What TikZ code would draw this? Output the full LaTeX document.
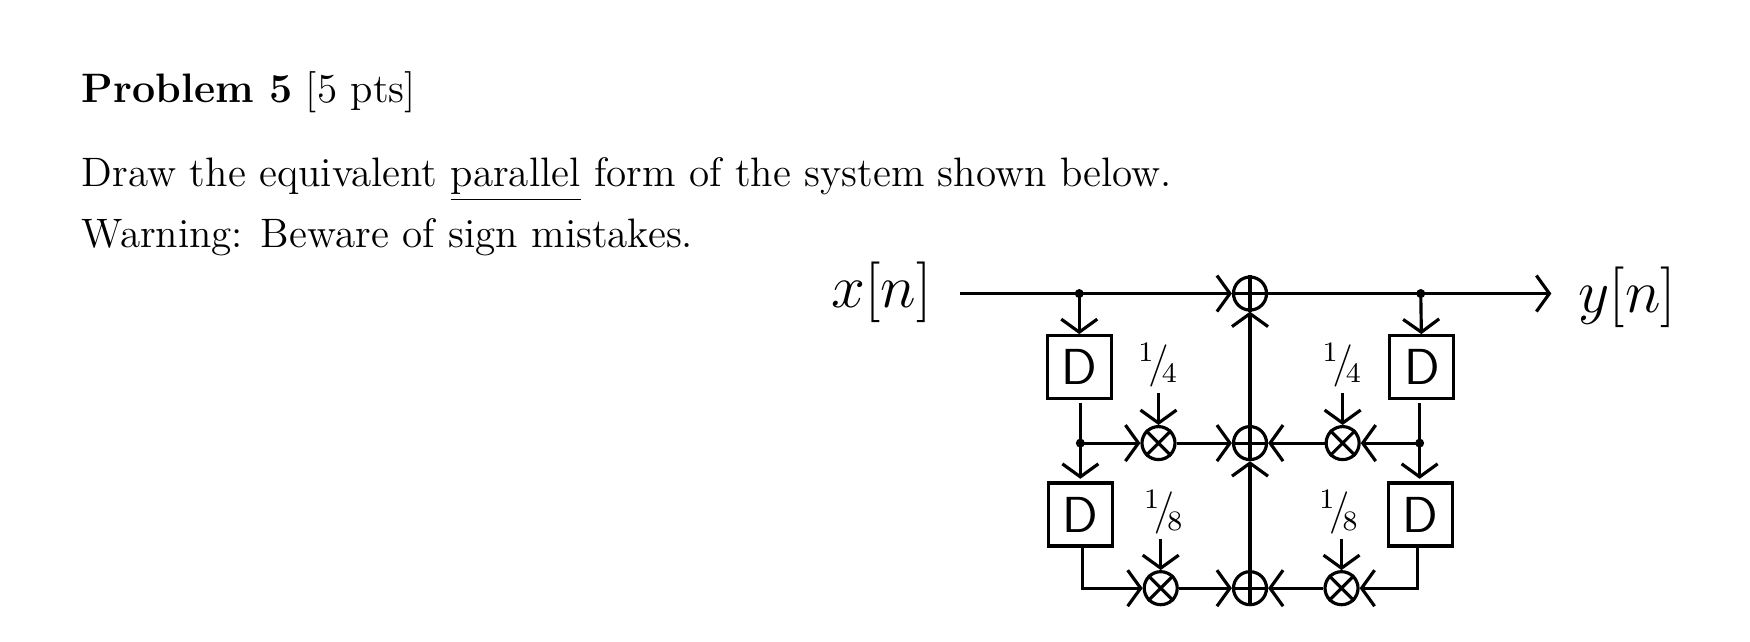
\documentclass[tikz,border=0pt]{standalone}
\usetikzlibrary{arrows.meta}
\begin{document}
\begin{tikzpicture}[x=0.011161cm,y=-0.011161cm,line width=0.9pt,
  arr/.style={-{Straight Barb[length=1.3mm,width=3.6mm,line width=0.9pt]}},
  dbox/.style={draw,minimum width=0.64cm,minimum height=0.63cm,inner sep=0pt,font=\sffamily\Large},
  circ/.style={draw,circle,minimum size=0.33cm,inner sep=0pt},
  dotn/.style={circle,fill,inner sep=0pt,minimum size=0.09cm},
  txt/.style={anchor=base west,inner sep=0pt,font=\fontsize{11.7}{14}\selectfont},
  coef/.style={font=\large,inner sep=1pt}]
\useasboundingbox (0,0) rectangle (1568,575);
\node[txt] (t1) at (72,92) {\textbf{Problem 5} [5 pts]};
\node[txt] (t2) at (72,167) {Draw the equivalent \underline{parallel} form of the system shown below.};
\node[txt] (t3) at (72,222) {Warning: Beware of sign mistakes.};
\node[font=\LARGE] (x) at (790,262) {$x[n]$};
\node[font=\LARGE] (y) at (1458,266) {$y[n]$};
\coordinate (xs) at (860,263);
\coordinate (ye) at (1390,263);
\node[dotn] (p1) at (967,263) {};
\node[dotn] (p2) at (1273,263) {};
\node[circ] (a1) at (1120,263) {};
\draw (a1.north)--(a1.south) (a1.west)--(a1.east);
\node[dbox] (d1) at (967,329) {D};
\node[dbox] (d2) at (1274,329) {D};
\node[dbox] (d3) at (968,461) {D};
\node[dbox] (d4) at (1273,461) {D};
\node[dotn] (p3) at (968,397) {};
\node[dotn] (p4) at (1272,397) {};
\node[circ] (m1) at (1038,397) {};
\node[circ] (a2) at (1120,397) {};
\node[circ] (m2) at (1203,397) {};
\node[circ] (m3) at (1040,527) {};
\node[circ] (a3) at (1120,527) {};
\node[circ] (m4) at (1202,527) {};
\foreach \k in {a2,a3}{\draw (\k.north)--(\k.south) (\k.west)--(\k.east);}
\foreach \k in {m1,m2,m3,m4}{\draw (\k.north west)--(\k.south east) (\k.north east)--(\k.south west);}
\node[coef] (c1) at (1038,327) {${}^1\!/\!{}_4$};
\node[coef] (c2) at (1203,327) {${}^1\!/\!{}_4$};
\node[coef] (c3) at (1043,459) {${}^1\!/\!{}_8$};
\node[coef] (c4) at (1200,459) {${}^1\!/\!{}_8$};
\coordinate (c1b) at (1038,352);
\coordinate (c2b) at (1203,352);
\coordinate (c3b) at (1040,483);
\coordinate (c4b) at (1202,483);
\coordinate (d3b) at (970,489);
\coordinate (d4b) at (1270,489);
\coordinate (d2b) at (1272,361);
\coordinate (d4t) at (1272,429);
\coordinate (d1b) at (968,361);
\coordinate (d3t) at (968,429);
\draw[arr] (xs)--(a1);
\draw (a1)--(p2.center);
\draw[arr] (p2.center)--(ye);
\draw[arr] (p1.center)--(d1);
\draw[arr] (p2.center)--(d2);
\draw (d1b)--(p3.center);
\draw[arr] (p3.center)--(d3t);
\draw (d2b)--(p4.center);
\draw[arr] (p4.center)--(d4t);
\draw[arr] (p3.center)--(m1);
\draw[arr] (m1)--(a2);
\draw[arr] (p4.center)--(m2);
\draw[arr] (m2)--(a2);
\draw[arr] (a2)--(a1);
\draw[arr] (c1b)--(m1);
\draw[arr] (c2b)--(m2);
\draw[arr] (c3b)--(m3);
\draw[arr] (c4b)--(m4);
\draw[arr] (d3b) |- (m3);
\draw[arr] (d4b) |- (m4);
\draw[arr] (m3)--(a3);
\draw[arr] (m4)--(a3);
\draw[arr] (a3)--(a2);
\end{tikzpicture}
\end{document}
